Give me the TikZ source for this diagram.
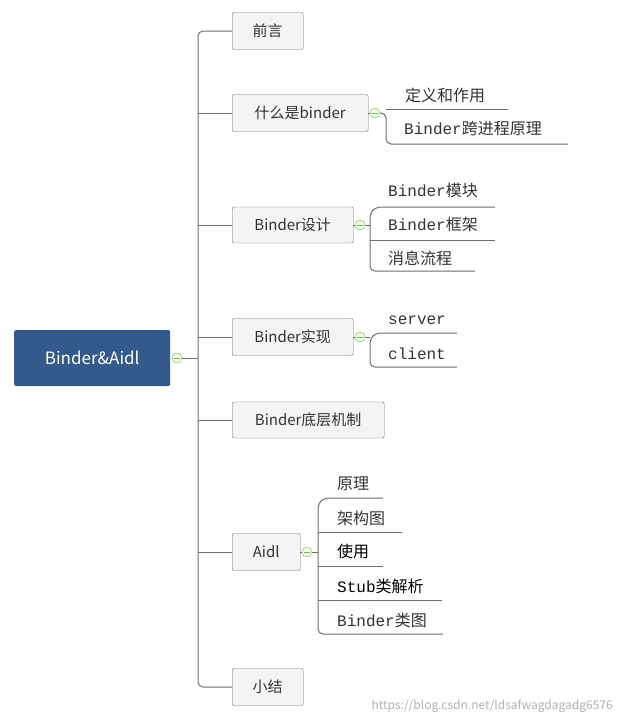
\documentclass[tikz,border=0pt]{standalone}
\usepackage{fontspec}
\setmainfont{Noto Sans CJK SC}
\newfontfamily\cjk{Noto Sans CJK SC}
\newfontfamily\mono{Liberation Mono}
\definecolor{rootc}{HTML}{335A8A}
\definecolor{linec}{HTML}{6E6E6E}
\definecolor{boxf}{HTML}{F4F4F4}
\definecolor{greenc}{HTML}{7DB340}
\begin{document}
\begin{tikzpicture}[x=1pt,y=-1pt,
  box/.style={draw=linec,fill=boxf,rounded corners=2pt,anchor=west,inner sep=0pt,font=\cjk\fontsize{15}{17}\selectfont,text=black!80},
  conn/.style={draw=linec,line width=1pt},
  kid/.style={anchor=west,inner sep=0pt,font=\fontsize{16}{18}\selectfont,text=black!80},
  tog/.style={circle,draw=greenc,fill=green!8,minimum size=10pt,inner sep=0pt,path picture={\draw[greenc,line width=0.8pt] ([xshift=-3pt]path picture bounding box.center)--([xshift=3pt]path picture bounding box.center);}}]
\useasboundingbox (0,0) rectangle (622,724);
\fill[white] (0,0) rectangle (622,724);
% root
\node[fill=rootc,rounded corners=2pt,minimum width=156pt,minimum height=56pt,text=white,font=\cjk\fontsize{17}{19}\selectfont,anchor=west] (root) at (14,358) {Binder\&Aidl};
\node[tog] (t0) at (177,358) {};
\draw[conn] (t0) -- (198,358);
\draw[conn,rounded corners=5pt] (232,31) -- (198,31) -- (198,687) -- (232,687);
% boxes
\node[box,minimum width=71pt,minimum height=37pt] (b1) at (232,31) {前言};
\node[box,minimum width=136pt,minimum height=37pt] (b2) at (232,113) {什么是binder};
\node[box,minimum width=121pt,minimum height=36pt] (b3) at (232,225) {Binder设计};
\node[box,minimum width=121pt,minimum height=37pt] (b4) at (232,337) {Binder实现};
\node[box,minimum width=152pt,minimum height=36pt] (b5) at (232,420) {Binder底层机制};
\node[box,minimum width=68pt,minimum height=37pt] (b6) at (232,552) {Aidl};
\node[box,minimum width=71pt,minimum height=37pt] (b7) at (232,687) {小结};
\foreach \y in {113,225,337,420,552} \draw[conn] (198,\y) -- (232,\y);
% b2 children
\node[tog] (t2) at (375,113) {};
\draw[conn] (b2.east) -- (t2);
\draw[conn,rounded corners=5pt] (t2) -- (386,113) -- (386,144) -- (568,144);
\draw[conn] (386,109) -- (508,109);
\node[kid] (c21) at (405,95) {\cjk 定义和作用};
\node[kid] (c22) at (404,129) {\mono Binder\cjk 跨进程原理};
% b3 children
\node[tog] (t3) at (360,225) {};
\draw[conn] (b3.east) -- (t3);
\draw[conn,rounded corners=5pt] (495,207) -- (376,207) -- (370,213) -- (370,271) -- (475,271);
\draw[conn] (t3) -- (370,225);
\draw[conn] (370,240) -- (495,240);
\node[kid] (c31) at (388,190) {\mono Binder\cjk 模块};
\node[kid] (c32) at (388,224) {\mono Binder\cjk 框架};
\node[kid] (c33) at (388,258) {\cjk 消息流程};
% b4 children
\node[tog] (t4) at (360,337) {};
\draw[conn] (b4.east) -- (t4);
\draw[conn,rounded corners=5pt] (457,333) -- (376,333) -- (370,339) -- (370,367) -- (457,367);
\draw[conn] (t4) -- (370,337);
\node[kid] (c41) at (388,320) {\mono server};
\node[kid] (c42) at (388,354) {\mono client};
% b6 children
\node[tog] (t6) at (307,552) {};
\draw[conn] (b6.east) -- (t6);
\draw[conn,rounded corners=5pt] (383,498) -- (324,498) -- (318,504) -- (318,634) -- (443,634);
\draw[conn] (t6) -- (318,552);
\draw[conn] (318,532) -- (402,532);
\draw[conn] (318,566) -- (383,566);
\draw[conn] (318,600) -- (442,600);
\node[kid] (c61) at (337,484) {\cjk 原理};
\node[kid] (c62) at (337,518) {\cjk 架构图};
\node[kid,text=black] (c63) at (337,551) {\cjk 使用};
\node[kid,text=black] (c64) at (337,586) {\mono Stub\cjk 类解析};
\node[kid] (c65) at (337,620) {\mono Binder\cjk 类图};
\node[anchor=east,inner sep=0pt,text=black!30,font=\fontsize{12}{14}\selectfont] (wm) at (613,706) {https://blog.csdn.net/ldsafwagdagadg6576};
\end{tikzpicture}
\end{document}
